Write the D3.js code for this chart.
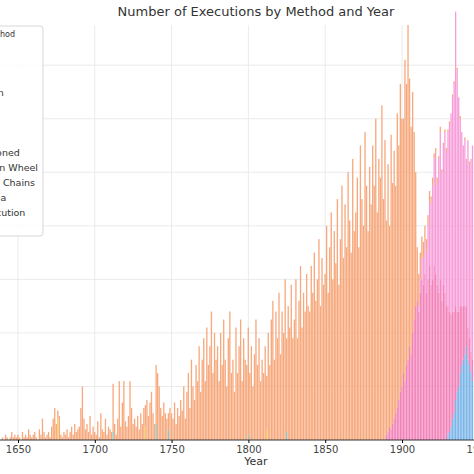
<!DOCTYPE html>
<html><head><meta charset="utf-8">
<script src="https://cdn.jsdelivr.net/npm/d3@7"></script>
<style>body{margin:0;background:#fff}svg{font-family:"DejaVu Sans",sans-serif}</style>
</head><body><svg id="c" width="474" height="474"></svg>
<script>
const startYear = 1640;
const hanging = [
1,0,2,1,0,1,3,1,2,1, 2,1,0,3,1,2,1,4,2,1, 2,3,1,0,4,2,8,3,1,2, 3,1,5,8,12,6,3,9,2,1,
3,2,4,1,3,5,2,6,3,4, 5,12,20,8,4,6,3,9,2,5, 3,2,7,1,10,4,3,8,2,5, 4,3,18,6,2,8,22,5,14,22,
7,5,9,22,12,6,8,5,9,4, 10,6,12,8,15,9,14,18,10,6, 22,25,20,12,9,14,10,8,6,12, 10,8,14,6,12,9,15,11,20,8,
18,25,12,30,20,15,28,22,35,18, 30,38,22,42,28,35,48,25,40,30, 35,22,40,28,45,30,20,38,48,25, 30,18,42,25,35,45,22,38,30,28,
40,25,35,20,32,45,28,38,22,30, 25,35,20,40,28,45,52,30,48,38, 55,32,48,40,60,35,50,42,58,38, 45,60,38,52,65,42,55,48,62,50,
48,65,55,70,52,60,75,50,68,58, 62,80,55,72,85,60,78,66,90,58, 75,95,68,88,72,100,82,70,105,78, 85,98,72,110,90,80,115,95,78,102,
88,110,95,120,85,105,98,125,90,112, 80,100,75,110,90,100,85,110,95,115, 100,95,120,105,125,100,85,90,70,50, 20,12,10,8,6,6,5,4,3,3,
3,2,2,2,1,2,1,1,1,1, 1,1,0,1,1,0,1,0,1,0, 0,1,0,0,1,0,0];
const elecStart = 1890;
const electrocution = [2,3,5,4,6,8,10,12,15,18, 20,25,22,28,30,35,32,40,45,50, 52,48,55,60,58,62,55,60,65,58,
60,65,62,58,55,60,52,58,55,50, 48,45,42,40,38,35,30,28,25,22, 20,18,15,12,10,8,8];
const gasStart = 1910;
const gas = [0,2,5,8,10,12,15,20,25,30, 35,40,45,38,50,55,48,52,60,58, 65,70,75,80,85,110,90,80,70,65, 60,62,55,70,65,72,80];
const injStart = 1930;
const injection = [2,3,5,8,10,15,18,20,25,28, 30,32,35,30,28,25,22];
const shotYears = [1712, 1740, 1748, 1800, 1825];
const shotVals = [3, 6, 4, 2, 3];
const burnedYears = [1676, 1733, 1812];
const burnedVals = [8, 5, 4];
const legendNames = ["Shot","Gas","Other","Injection","Gibbet","Axe","Pressed","Bludgeoned","Break on Wheel","Hung in Chains","Asphyxia","Electrocution"];
const xTicks = [1650,1700,1750,1800,1850,1900,1950];

const years = d3.range(startYear, 1947);
const get = (arr, s, yr) => (yr >= s && yr - s < arr.length) ? arr[yr - s] : 0;
const pick = (ys, vs, yr) => { const i = ys.indexOf(yr); return i < 0 ? 0 : vs[i]; };
const rows = years.map(yr => ({
  year: yr,
  injection: get(injection, injStart, yr),
  shot: pick(shotYears, shotVals, yr),
  burned: pick(burnedYears, burnedVals, yr),
  electrocution: get(electrocution, elecStart, yr),
  gas: get(gas, gasStart, yr),
  hanging: get(hanging, startYear, yr)
}));
const keys = ["injection","shot","burned","electrocution","gas","hanging"];
const colors = {injection:"#74b2e8", shot:"#7cc6c0", burned:"#f2c94c", electrocution:"#f27cb6", gas:"#f798d8", hanging:"#f7a475"};

const svg = d3.select("#c");
const x = d3.scaleLinear().domain([1650, 1900]).range([18, 402]);
const y = d3.scaleLinear().domain([0, 155]).range([440, 25]);

svg.append("g").selectAll("line").data(d3.range(20, 160, 20)).join("line")
  .attr("x1", 0).attr("x2", 474).attr("y1", d => y(d)).attr("y2", d => y(d))
  .attr("stroke", "#e6e6e6").attr("stroke-width", 0.8);
svg.append("g").selectAll("line").data(xTicks).join("line")
  .attr("x1", d => x(d)).attr("x2", d => x(d)).attr("y1", 25).attr("y2", 440)
  .attr("stroke", "#e6e6e6").attr("stroke-width", 0.8);

const stack = d3.stack().keys(keys)(rows);
const bw = x(1) - x(0);
svg.append("g").selectAll("g").data(stack).join("g")
  .attr("fill", d => colors[d.key]).attr("opacity", 0.95)
  .selectAll("rect").data(d => d.filter(p => p[1] > p[0])).join("rect")
  .attr("x", d => x(d.data.year) - bw / 2).attr("width", bw * 0.85)
  .attr("y", d => y(d[1])).attr("height", d => y(d[0]) - y(d[1]));

const ax = svg.append("g").attr("transform", "translate(0,440)")
  .call(d3.axisBottom(x).tickValues(xTicks).tickFormat(d3.format("d")).tickSize(3));
ax.select(".domain").attr("d", "M0,0H474").attr("stroke", "#333");
ax.selectAll("text").attr("font-size", 10).attr("fill", "#444").attr("font-family", "DejaVu Sans");

svg.append("text").attr("x", 256).attr("y", 465).attr("text-anchor", "middle")
  .attr("font-size", 11).attr("fill", "#333").text("Year");
svg.append("text").attr("x", 256).attr("y", 16).attr("text-anchor", "middle")
  .attr("font-size", 13).attr("fill", "#333").text("Number of Executions by Method and Year");

const lg = svg.append("g");
lg.append("rect").attr("x", -70).attr("y", 26).attr("width", 113).attr("height", 210).attr("rx", 3)
  .attr("fill", "#fff").attr("fill-opacity", 0.85).attr("stroke", "#d8d8d8");
lg.append("text").attr("x", -15).attr("y", 37).attr("font-size", 8).attr("fill", "#333").text("Method");
lg.selectAll("text.it").data(legendNames).join("text").attr("class", "it")
  .attr("x", -37).attr("y", (d, i) => 51 + i * 15).attr("font-size", 9.5).attr("fill", "#333").text(d => d);
</script></body></html>
